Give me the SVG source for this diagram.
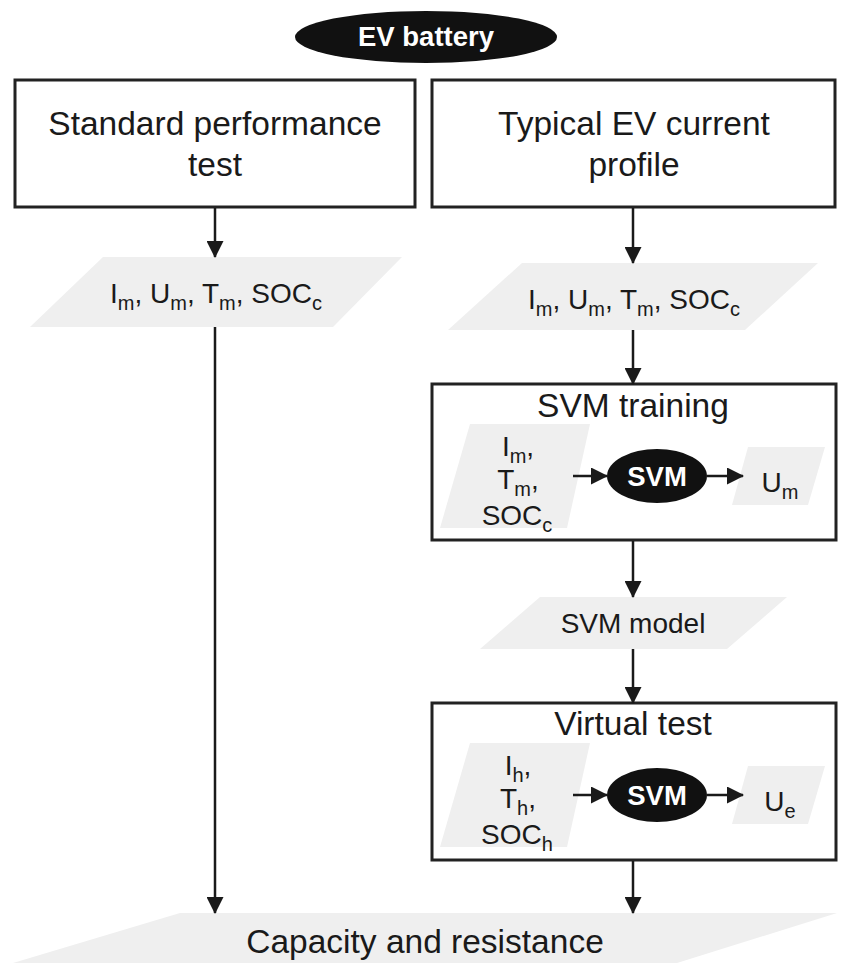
<svg xmlns="http://www.w3.org/2000/svg" width="861" height="972" viewBox="0 0 861 972">
<defs>
<marker id="ah" markerUnits="userSpaceOnUse" markerWidth="17" markerHeight="17" refX="16" refY="8.5" orient="auto">
<path d="M0,0 L17,8.5 L0,17 Z" fill="#1a1a1a"/>
</marker>
</defs>
<style>
.box{fill:#fff;stroke:#222;stroke-width:3}
.para{fill:#efefef;stroke:none}
.dark{fill:#111}
.t{font-family:"Liberation Sans",Arial,sans-serif;fill:#1a1a1a;text-anchor:middle}
.big{font-size:33.5px}
.mid{font-size:28px}
.sub{font-size:20px}
.wb{font-family:"Liberation Sans",Arial,sans-serif;fill:#fff;font-weight:bold;text-anchor:middle;font-size:27.5px}
.c{stroke:#1a1a1a;stroke-width:2.5;fill:none;marker-end:url(#ah)}
</style>
<rect width="861" height="972" fill="#fff"/>

<g id="ev-battery">
<ellipse class="dark" cx="426" cy="37" rx="131" ry="26"/>
<text class="wb" x="426" y="46">EV battery</text>
</g>

<g id="standard-test">
<rect class="box" x="15" y="80" width="400" height="127"/>
<text class="t big" x="215" y="135">Standard performance</text>
<text class="t big" x="215" y="176">test</text>
</g>

<g id="typical-profile">
<rect class="box" x="432" y="80" width="403" height="127"/>
<text class="t big" x="634" y="135">Typical EV current</text>
<text class="t big" x="634" y="176">profile</text>
</g>

<g id="data-left">
<polygon class="para" points="103,257 402,257 333,327 30,327"/>
<text class="t mid" x="216" y="303">I<tspan class="sub" dy="7">m</tspan><tspan dy="-7">, U</tspan><tspan class="sub" dy="7">m</tspan><tspan dy="-7">, T</tspan><tspan class="sub" dy="7">m</tspan><tspan dy="-7">, SOC</tspan><tspan class="sub" dy="7">c</tspan></text>
</g>

<g id="data-right">
<polygon class="para" points="522,263 818,263 745,330 448,330"/>
<text class="t mid" x="634" y="309">I<tspan class="sub" dy="7">m</tspan><tspan dy="-7">, U</tspan><tspan class="sub" dy="7">m</tspan><tspan dy="-7">, T</tspan><tspan class="sub" dy="7">m</tspan><tspan dy="-7">, SOC</tspan><tspan class="sub" dy="7">c</tspan></text>
</g>

<g id="svm-training">
<rect class="box" x="432" y="384" width="404" height="156"/>
<text class="t big" x="633" y="417">SVM training</text>
<polygon class="para" points="470,424 590,424 567,528 440,528"/>
<text class="t mid" x="518" y="456">I<tspan class="sub" dy="7">m</tspan><tspan dy="-7">,</tspan></text>
<text class="t mid" x="518" y="489">T<tspan class="sub" dy="7">m</tspan><tspan dy="-7">,</tspan></text>
<text class="t mid" x="517" y="525">SOC<tspan class="sub" dy="7">c</tspan></text>
<ellipse class="dark" cx="657" cy="476" rx="50" ry="27"/>
<text class="wb" x="657" y="486">SVM</text>
<polygon class="para" points="748,447 825,447 808,505 732,505"/>
<text class="t mid" x="780" y="492">U<tspan class="sub" dy="7">m</tspan></text>
</g>

<g id="svm-model">
<polygon class="para" points="540,597 787,597 727,649 480,649"/>
<text class="t mid" x="633" y="633">SVM model</text>
</g>

<g id="virtual-test">
<rect class="box" x="432" y="703" width="404" height="157"/>
<text class="t big" x="633" y="735">Virtual test</text>
<polygon class="para" points="470,743 590,743 567,847 440,847"/>
<text class="t mid" x="518" y="775">I<tspan class="sub" dy="7">h</tspan><tspan dy="-7">,</tspan></text>
<text class="t mid" x="518" y="808">T<tspan class="sub" dy="7">h</tspan><tspan dy="-7">,</tspan></text>
<text class="t mid" x="517" y="844">SOC<tspan class="sub" dy="7">h</tspan></text>
<ellipse class="dark" cx="657" cy="795" rx="50" ry="27"/>
<text class="wb" x="657" y="805">SVM</text>
<polygon class="para" points="748,766 825,766 808,824 732,824"/>
<text class="t mid" x="780" y="811">U<tspan class="sub" dy="7">e</tspan></text>
</g>

<g id="capacity-resistance">
<polygon class="para" points="180,913 837,913 677,963 13,963"/>
<text class="t big" x="425" y="953">Capacity and resistance</text>
</g>

<g id="connectors">
<line class="c" x1="215" y1="208" x2="215" y2="257"/>
<line class="c" x1="215" y1="327" x2="215" y2="913"/>
<line class="c" x1="633" y1="208" x2="633" y2="263"/>
<line class="c" x1="633" y1="330" x2="633" y2="384"/>
<line class="c" x1="633" y1="541" x2="633" y2="597"/>
<line class="c" x1="633" y1="649" x2="633" y2="703"/>
<line class="c" x1="633" y1="861" x2="633" y2="913"/>
<line class="c" x1="573" y1="476" x2="607" y2="476"/>
<line class="c" x1="707" y1="476" x2="743" y2="476"/>
<line class="c" x1="573" y1="795" x2="607" y2="795"/>
<line class="c" x1="707" y1="795" x2="743" y2="795"/>
</g>
</svg>
